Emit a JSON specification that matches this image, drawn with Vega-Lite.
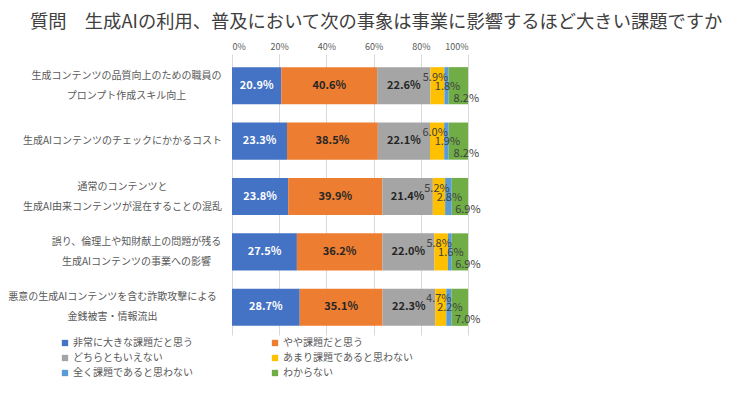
{
  "$schema": "https://vega.github.io/schema/vega-lite/v6.json",
  "width": 236,
  "height": 277,
  "autosize": {"type": "none"},
  "padding": {"left": 232, "top": 58, "right": 282, "bottom": 63},
  "background": "white",
  "config": {
    "font": "Noto Sans CJK JP",
    "view": {"stroke": null}
  },
  "title": {
    "text": "質問　生成AIの利用、普及において次の事象は事業に影響するほど大きい課題ですか",
    "fontSize": 18.3,
    "fontWeight": "normal",
    "color": "#404040",
    "anchor": "start",
    "frame": "group",
    "dx": -202,
    "offset": 10
  },
  "data": {
    "values": [
      {"cat": "生成コンテンツの品質向上のための職員の|プロンプト作成スキル向上", "resp": "非常に大きな課題だと思う", "order": 1, "value": 0.209},
      {"cat": "生成コンテンツの品質向上のための職員の|プロンプト作成スキル向上", "resp": "やや課題だと思う", "order": 2, "value": 0.406},
      {"cat": "生成コンテンツの品質向上のための職員の|プロンプト作成スキル向上", "resp": "どちらともいえない", "order": 3, "value": 0.226},
      {"cat": "生成コンテンツの品質向上のための職員の|プロンプト作成スキル向上", "resp": "あまり課題であると思わない", "order": 4, "value": 0.059},
      {"cat": "生成コンテンツの品質向上のための職員の|プロンプト作成スキル向上", "resp": "全く課題であると思わない", "order": 5, "value": 0.018},
      {"cat": "生成コンテンツの品質向上のための職員の|プロンプト作成スキル向上", "resp": "わからない", "order": 6, "value": 0.082},
      {"cat": "生成AIコンテンツのチェックにかかるコスト", "resp": "非常に大きな課題だと思う", "order": 1, "value": 0.233},
      {"cat": "生成AIコンテンツのチェックにかかるコスト", "resp": "やや課題だと思う", "order": 2, "value": 0.385},
      {"cat": "生成AIコンテンツのチェックにかかるコスト", "resp": "どちらともいえない", "order": 3, "value": 0.221},
      {"cat": "生成AIコンテンツのチェックにかかるコスト", "resp": "あまり課題であると思わない", "order": 4, "value": 0.060},
      {"cat": "生成AIコンテンツのチェックにかかるコスト", "resp": "全く課題であると思わない", "order": 5, "value": 0.019},
      {"cat": "生成AIコンテンツのチェックにかかるコスト", "resp": "わからない", "order": 6, "value": 0.082},
      {"cat": "通常のコンテンツと|生成AI由来コンテンツが混在することの混乱", "resp": "非常に大きな課題だと思う", "order": 1, "value": 0.238},
      {"cat": "通常のコンテンツと|生成AI由来コンテンツが混在することの混乱", "resp": "やや課題だと思う", "order": 2, "value": 0.399},
      {"cat": "通常のコンテンツと|生成AI由来コンテンツが混在することの混乱", "resp": "どちらともいえない", "order": 3, "value": 0.214},
      {"cat": "通常のコンテンツと|生成AI由来コンテンツが混在することの混乱", "resp": "あまり課題であると思わない", "order": 4, "value": 0.052},
      {"cat": "通常のコンテンツと|生成AI由来コンテンツが混在することの混乱", "resp": "全く課題であると思わない", "order": 5, "value": 0.028},
      {"cat": "通常のコンテンツと|生成AI由来コンテンツが混在することの混乱", "resp": "わからない", "order": 6, "value": 0.069},
      {"cat": "誤り、倫理上や知財献上の問題が残る|生成AIコンテンツの事業への影響", "resp": "非常に大きな課題だと思う", "order": 1, "value": 0.275},
      {"cat": "誤り、倫理上や知財献上の問題が残る|生成AIコンテンツの事業への影響", "resp": "やや課題だと思う", "order": 2, "value": 0.362},
      {"cat": "誤り、倫理上や知財献上の問題が残る|生成AIコンテンツの事業への影響", "resp": "どちらともいえない", "order": 3, "value": 0.220},
      {"cat": "誤り、倫理上や知財献上の問題が残る|生成AIコンテンツの事業への影響", "resp": "あまり課題であると思わない", "order": 4, "value": 0.058},
      {"cat": "誤り、倫理上や知財献上の問題が残る|生成AIコンテンツの事業への影響", "resp": "全く課題であると思わない", "order": 5, "value": 0.016},
      {"cat": "誤り、倫理上や知財献上の問題が残る|生成AIコンテンツの事業への影響", "resp": "わからない", "order": 6, "value": 0.069},
      {"cat": "悪意の生成AIコンテンツを含む詐欺攻撃による|金銭被害・情報流出", "resp": "非常に大きな課題だと思う", "order": 1, "value": 0.287},
      {"cat": "悪意の生成AIコンテンツを含む詐欺攻撃による|金銭被害・情報流出", "resp": "やや課題だと思う", "order": 2, "value": 0.351},
      {"cat": "悪意の生成AIコンテンツを含む詐欺攻撃による|金銭被害・情報流出", "resp": "どちらともいえない", "order": 3, "value": 0.223},
      {"cat": "悪意の生成AIコンテンツを含む詐欺攻撃による|金銭被害・情報流出", "resp": "あまり課題であると思わない", "order": 4, "value": 0.047},
      {"cat": "悪意の生成AIコンテンツを含む詐欺攻撃による|金銭被害・情報流出", "resp": "全く課題であると思わない", "order": 5, "value": 0.022},
      {"cat": "悪意の生成AIコンテンツを含む詐欺攻撃による|金銭被害・情報流出", "resp": "わからない", "order": 6, "value": 0.070}
    ]
  },
  "transform": [
    {"stack": "value", "groupby": ["cat"], "sort": [{"field": "order", "order": "ascending"}], "as": ["v0", "v1"]},
    {"calculate": "(datum.v0 + datum.v1) / 2", "as": "mid"}
  ],
  "encoding": {
    "y": {
      "field": "cat",
      "type": "nominal",
      "sort": null,
      "scale": {"paddingInner": 0.33, "paddingOuter": 0.165},
      "axis": {
        "title": null,
        "domain": false,
        "ticks": false,
        "labelExpr": "split(datum.label, '|')",
        "labelLineHeight": 20,
        "labelFontSize": 10,
        "labelColor": "#595959",
        "labelAlign": "center",
        "labelBaseline": "middle",
        "labelOffset": {
          "condition": {"test": "indexof(datum.value, '|') >= 0", "value": -10},
          "value": 0
        },
        "labelLimit": 400,
        "labelPadding": {
          "condition": [
            {"test": "indexof(datum.value, '品質向上') >= 0", "value": 106},
            {"test": "indexof(datum.value, '倫理上') >= 0", "value": 96},
            {"test": "indexof(datum.value, '詐欺攻撃') >= 0", "value": 120}
          ],
          "value": 110
        }
      }
    }
  },
  "layer": [
    {
      "mark": {"type": "bar"},
      "encoding": {
        "x": {
          "field": "v0",
          "type": "quantitative",
          "scale": {"domain": [0, 1], "nice": false},
          "axis": {
            "orient": "top",
            "title": null,
            "values": [0, 0.2, 0.4, 0.6, 0.8, 1],
            "format": "%",
            "labelFontSize": 9,
            "labelColor": "#595959",
            "domain": false,
            "tickColor": "#d9d9d9",
            "tickSize": 4,
            "labelPadding": 3,
            "grid": true,
            "gridColor": "#d9d9d9"
          }
        },
        "x2": {"field": "v1"},
        "color": {
          "field": "resp",
          "type": "nominal",
          "sort": ["非常に大きな課題だと思う", "やや課題だと思う", "どちらともいえない", "あまり課題であると思わない", "全く課題であると思わない", "わからない"],
          "scale": {
            "domain": ["非常に大きな課題だと思う", "やや課題だと思う", "どちらともいえない", "あまり課題であると思わない", "全く課題であると思わない", "わからない"],
            "range": ["#4472C4", "#ED7D31", "#A5A5A5", "#FFC000", "#5B9BD5", "#70AD47"]
          },
          "legend": {
            "title": null,
            "orient": "none",
            "direction": "horizontal",
            "legendX": -172,
            "legendY": 280,
            "columns": 2,
            "columnPadding": 77,
            "rowPadding": 5,
            "symbolType": "square",
            "symbolSize": 40,
            "symbolStrokeWidth": 0,
            "labelOffset": 3,
            "labelFontSize": 10,
            "labelColor": "#595959",
            "labelLimit": 300
          }
        }
      }
    },
    {
      "transform": [{"filter": "datum.order <= 3"}],
      "mark": {"type": "text", "fontSize": 11, "fontWeight": "bold", "align": "center", "baseline": "middle"},
      "encoding": {
        "x": {"field": "mid", "type": "quantitative"},
        "text": {"field": "value", "type": "quantitative", "format": ".1%"},
        "color": {
          "condition": {"test": "datum.order == 1", "value": "#ffffff"},
          "value": "#262626"
        }
      }
    },
    {
      "transform": [{"filter": "datum.order == 4"}],
      "mark": {"type": "text", "fontSize": 11, "align": "center", "baseline": "middle", "dx": -2, "dy": -8, "color": "#404040"},
      "encoding": {
        "x": {"field": "mid", "type": "quantitative"},
        "text": {"field": "value", "type": "quantitative", "format": ".1%"}
      }
    },
    {
      "transform": [{"filter": "datum.order == 5"}],
      "mark": {"type": "text", "fontSize": 11, "align": "center", "baseline": "middle", "dx": 1, "dy": 1, "color": "#404040"},
      "encoding": {
        "x": {"field": "mid", "type": "quantitative"},
        "text": {"field": "value", "type": "quantitative", "format": ".1%"}
      }
    },
    {
      "transform": [{"filter": "datum.order == 6"}],
      "mark": {"type": "text", "fontSize": 11, "align": "center", "baseline": "middle", "dx": 8, "dy": 13, "color": "#404040"},
      "encoding": {
        "x": {"field": "mid", "type": "quantitative"},
        "text": {"field": "value", "type": "quantitative", "format": ".1%"}
      }
    }
  ]
}
